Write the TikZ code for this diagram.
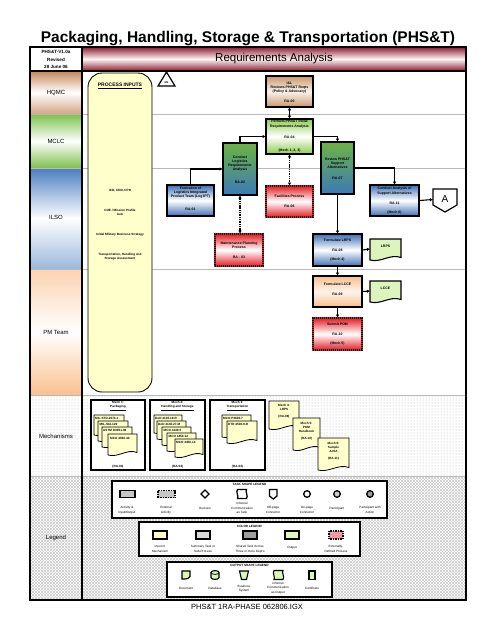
\documentclass[tikz,border=0pt]{standalone}
\usepackage{fontspec}
\setmainfont{Liberation Sans}
\usetikzlibrary{patterns,arrows.meta}
\definecolor{hdrred}{HTML}{8E1B2E}
\definecolor{hqbrown}{HTML}{C4875A}
\definecolor{mcgreen}{HTML}{7CC04A}
\definecolor{ilblue}{HTML}{4A7EC0}
\definecolor{pmpeach}{HTML}{FAC08F}
\definecolor{tanbox}{HTML}{C9976C}
\definecolor{grbox}{HTML}{8ECC50}
\definecolor{gbgreen}{HTML}{6CB244}
\definecolor{gbblue}{HTML}{3C7AB8}
\definecolor{blbox}{HTML}{3F70B3}
\definecolor{rdbox}{HTML}{E41E26}
\definecolor{pcbox}{HTML}{F9BE8C}
\definecolor{inyellow}{HTML}{FFFFCC}
\definecolor{outgreen}{HTML}{DDF5BD}
\newcommand\wdoc[5][]{\path[#1] (#2,#3) -- (#4,#3) -- (#4,{#5-2.5}) .. controls ({#2+0.65*(#4-#2)},{#5-6.5}) and ({#2+0.35*(#4-#2)},{#5+3}) .. (#2,#5) -- cycle;}
\begin{document}
\begin{tikzpicture}[x=1pt,y=-1pt,
  btxt/.style={font=\fontsize{3.5}{4.2}\selectfont\bfseries, inner sep=0pt, align=center},
  mtxt/.style={font=\fontsize{3.1}{4.2}\selectfont\bfseries, inner sep=0pt, align=center},
  ltxt/.style={font=\fontsize{3.1}{4.4}\selectfont, inner sep=0pt, align=center},
  lgtitle/.style={font=\fontsize{3.1}{4}\selectfont\bfseries, inner sep=0pt},
  lane/.style={font=\fontsize{6}{7}\selectfont, inner sep=0pt},
  box/.style={draw, line width=1.2pt, inner sep=0pt},
  tanfill/.style={top color=tanbox, bottom color=tanbox, middle color=tanbox!12},
  grfill/.style={top color=grbox, bottom color=grbox, middle color=white},
  gbfill/.style={top color=gbgreen, bottom color=gbblue},
  blfill/.style={top color=blbox, bottom color=blbox, middle color=white},
  rdfill/.style={top color=rdbox, bottom color=rdbox, middle color=white, draw=rdbox,
     postaction={draw=black, line width=1.2pt, dash pattern=on 1.1pt off 0.9pt}},
  pcfill/.style={top color=pcbox, bottom color=pcbox, middle color=pcbox!15},
  arr/.style={line width=1.1pt, -{Triangle[length=2.8pt,width=3pt]}},
  darr/.style={line width=1.1pt, dash pattern=on 1.4pt off 0.9pt, {Triangle[length=2.8pt,width=3pt]}-{Triangle[length=2.8pt,width=3pt]}},
  ydoc/.style={draw, line width=0.8pt, fill=inyellow},
  gdoc/.style={draw, line width=1.1pt, fill=outgreen},
  mbox/.style={draw, line width=1.1pt, fill=white, inner sep=0pt},
  lgbox/.style={draw, line width=1.2pt, fill=white, inner sep=0pt},
  ico/.style={draw, line width=1.1pt},
]
\useasboundingbox (0,0) rectangle (495,640);
\fill[white] (0,0) rectangle (495,640);

% title
\node[font=\fontsize{15.5}{17}\selectfont\bfseries, inner sep=0pt] (title) at (248,39) {Packaging, Handling, Storage \& Transportation (PHS\&T)};

% lane label cells
\path[top color=hqbrown, bottom color=hqbrown!75, middle color=white] (30,71) rectangle (82,114);
\path[top color=mcgreen, bottom color=mcgreen, middle color=white] (30,114) rectangle (82,168);
\path[top color=ilblue, bottom color=ilblue!55, middle color=white] (30,168) rectangle (82,269);
\path[top color=pmpeach!70, bottom color=pmpeach, middle color=white] (30,269) rectangle (82,395);
% patterned rows
\path[pattern=dots, pattern color=gray!55] (30,395) rectangle (466,476);
\path[pattern=north east lines, pattern color=gray!40] (30,476) rectangle (466,600);
\path[pattern=north west lines, pattern color=gray!40] (30,476) rectangle (466,600);

% lane separators
\foreach \yy in {114,168,269,395,476} \draw[gray!55, line width=1pt] (30,\yy) -- (466,\yy);

\node[lane] (lhq) at (56,93) {HQMC};
\node[lane] (lmc) at (56,141) {MCLC};
\node[lane] (lil) at (56,217) {ILSO};
\node[lane] (lpm) at (56,332) {PM Team};
\node[lane] (lme) at (56,436) {Mechanisms};
\node[lane] (llg) at (56,538) {Legend};

% frame
\draw[line width=1.3pt] (30,47) rectangle (466,600);
\draw[line width=1.3pt] (82,47) -- (82,600);

% header
\node[draw, line width=1.2pt, fill=white, minimum width=52, minimum height=24, inner sep=0pt] (ver) at (56,59) {};
\node[font=\fontsize{4.6}{7.2}\selectfont\bfseries, align=center, inner sep=0pt] (vertxt) at (56,59.5) {PHS\&T-V1.0a\\Revised\\28 June 06};
\node[draw, line width=1.2pt, top color=hdrred, bottom color=hdrred, middle color=hdrred!4, minimum width=384, minimum height=24, inner sep=0pt, font=\fontsize{11.5}{12}\selectfont] (band) at (274,59) {Requirements Analysis};

% process inputs
\node[draw, line width=0.9pt, fill=inyellow, rounded corners=14, minimum width=64, minimum height=319, inner sep=0pt] (pin) at (120,232.5) {};
\node[font=\fontsize{5}{6}\selectfont\bfseries, inner sep=0pt] (pintitle) at (120,86) {\underline{PROCESS INPUTS}};
\node[mtxt] (pi1) at (120,191) {ICD, CDD, CPD};
\node[mtxt] (pi2) at (120,212.5) {COE / Mission Profile\\AoA};
\node[mtxt] (pi3) at (120,235) {Initial Military Business Strategy};
\node[mtxt] (pi4) at (120,256.5) {Transportation, Handling and\\Storage Assessment};

% MS triangle
\draw[line width=1.2pt, fill=white] (166.5,72) -- (175,86) -- (158,86) -- cycle;
\node[font=\fontsize{2.6}{3}\selectfont\bfseries, inner sep=0pt] (ms) at (166.5,82.3) {MS};

% task boxes
\node[box, tanfill, minimum width=47, minimum height=31] (ra00) at (289.5,91.5) {};
\node[btxt] (t00a) at (289.5,87.5) {I\&L\\Reviews PHS\&T Reqts\\(Policy \& Advocacy)};
\node[btxt] (t00b) at (289.5,101) {RA-00};

\node[box, grfill, minimum width=47, minimum height=35] (ra04) at (289.5,136.5) {};
\node[btxt] (t04a) at (289.5,124) {Perform PHS\&T Initial\\Requirements Analysis};
\node[btxt] (t04b) at (289.5,137) {RA-04};
\node[btxt] (t04c) at (289.5,150.5) {(Mech 1, 2, 3)};

\node[box, gbfill, minimum width=34, minimum height=52] (ra02) at (240,169) {};
\node[btxt] (t02a) at (240,163.5) {Conduct\\Logistics\\Requirements\\Analysis};
\node[btxt] (t02b) at (240,182) {RA-02};

\node[box, gbfill, minimum width=33, minimum height=52] (ra07) at (337.5,168) {};
\node[btxt] (t07a) at (337.5,163.5) {Review PHS\&T\\Support\\Alternatives};
\node[btxt] (t07b) at (337.5,178) {RA-07};

\node[box, rdfill, minimum width=47, minimum height=31] (ra06) at (289.5,201.5) {};
\node[btxt] (t06a) at (289.5,196) {Facilities Process};
\node[btxt] (t06b) at (289.5,206) {RA-06};

\node[box, blfill, minimum width=47, minimum height=31] (ra01) at (190.5,200.5) {};
\node[btxt] (t01a) at (190.5,192.8) {Formation of\\Logistics Integrated\\Product Team (Log IPT)};
\node[btxt] (t01b) at (190.5,209) {RA-01};

\node[box, blfill, minimum width=49, minimum height=31] (ra11) at (394.5,200.5) {};
\node[btxt] (t11a) at (394.5,191) {Conduct Analysis of\\Support Alternatives};
\node[btxt] (t11b) at (394.5,203) {RA-11};
\node[btxt] (t11c) at (394.5,212.5) {(Mech 6)};

% off-page connector A
\draw[line width=1.2pt, fill=white] (433,189) -- (457,189) -- (457,205) -- (445,212) -- (433,205) -- cycle;
\node[font=\fontsize{10}{11}\selectfont, minimum width=24, minimum height=23, inner sep=0pt] (offa) at (445,199.5) {A};

\node[box, rdfill, minimum width=48, minimum height=32] (ra03) at (239,250) {};
\node[btxt] (t03a) at (239,245.5) {Maintenance Planning\\Process};
\node[btxt] (t03b) at (239,257) {RA - 03};

\node[box, blfill, minimum width=49, minimum height=32] (ra08) at (337.5,250) {};
\node[btxt] (t08a) at (337.5,240.5) {Formulate LRPS};
\node[btxt] (t08b) at (337.5,250) {RA-08};
\node[btxt] (t08c) at (337.5,260) {(Mech 4)};

\node[box, pcfill, minimum width=49, minimum height=31] (ra09) at (337.5,291.5) {};
\node[btxt] (t09a) at (337.5,284.5) {Formulate LCCE};
\node[btxt] (t09b) at (337.5,294) {RA-09};

\node[box, rdfill, minimum width=49, minimum height=32] (ra10) at (337.5,334) {};
\node[btxt] (t10a) at (337.5,324.5) {Submit POM};
\node[btxt] (t10b) at (337.5,334) {RA-10};
\node[btxt] (t10c) at (337.5,344) {(Mech 5)};

% output documents
\wdoc[gdoc]{370}{239}{401}{260}
\node[btxt, minimum width=31, minimum height=19] (lrps) at (385.5,249) {};
\node[btxt] (lrpst) at (385.5,246) {LRPS};
\wdoc[gdoc]{370}{281}{401}{302}
\node[btxt, minimum width=31, minimum height=19] (lcce) at (385.5,291) {};
\node[btxt] (lccet) at (385.5,288) {LCCE};

% connectors
\draw[line width=1.1pt, {Triangle[length=2.8pt,width=3pt]}-{Triangle[length=2.8pt,width=3pt]}] (ra00.south) -- (ra04.north);
\draw[arr] (ra02.north) |- (ra04.west);
\draw[arr] (ra04.east) -| (ra07.north);
\draw[arr] (ra01.north) |- (ra02.west);
\draw[darr] (ra04.south) -- (ra06.north);
\draw[darr] (ra02.south) -- (ra02.south |- ra03.north);
\draw[arr] (ra07.east) -| (ra11.north);
\draw[arr] (ra11.east) -- (offa.west);
\draw[arr] (ra07.south) -- (ra08.north);
\draw[arr] (ra08.east) -- (lrps.west);
\draw[arr] (ra08.south) -- (ra09.north);
\draw[arr] (ra09.east) -- (lcce.west);
\draw[arr] (ra09.south) -- (ra10.north);

% mechanisms
\node[mbox, minimum width=54, minimum height=70] (mech1) at (118,435) {};
\node[mtxt] (m1t) at (118,406) {Mech 1:\\\underline{Packaging}};
\node[mtxt] (m1b) at (118,467) {(RA-04)};
\wdoc[ydoc]{94}{415}{124}{435}
\node[mtxt, anchor=west] (m1d1) at (95,418) {MIL-STD-2073-1};
\wdoc[ydoc]{98}{421}{128}{441}
\node[mtxt, anchor=west] (m1d2) at (99.5,424) {MIL-Std-129};
\wdoc[ydoc]{102}{427}{132}{447}
\node[mtxt, anchor=west] (m1d3) at (103,430) {ASTM D3951-98};
\wdoc[ydoc]{108}{434}{137}{455}
\node[mtxt, anchor=west] (m1d4) at (110,438) {MCO 4030.40};

\node[mbox, minimum width=55, minimum height=70] (mech2) at (177.5,435) {};
\node[mtxt] (m2t) at (177.5,406) {Mech 2:\\\underline{Handling and Storage}};
\node[mtxt] (m2b) at (177.5,467) {(RA-04)};
\wdoc[ydoc]{154}{415}{182}{433}
\node[mtxt, anchor=west] (m2d1) at (155,418) {DoD 4145.19-R};
\wdoc[ydoc]{157}{421}{186}{439}
\node[mtxt, anchor=west] (m2d2) at (158,424) {DoD 4140.27-M};
\wdoc[ydoc]{162}{427}{191}{445}
\node[mtxt, anchor=west] (m2d3) at (163.5,430) {MCO 4140.5};
\wdoc[ydoc]{167}{433}{196}{451}
\node[mtxt, anchor=west] (m2d4) at (168.5,436) {MCO 4450.12};
\wdoc[ydoc]{175}{439}{203}{457}
\node[mtxt, anchor=west] (m2d5) at (176,442) {MCO 4450.14};

\node[mbox, minimum width=55, minimum height=70] (mech3) at (237.5,435) {};
\node[mtxt] (m3t) at (237.5,406) {Mech 3:\\\underline{Transportation}};
\node[mtxt] (m3b) at (237.5,467) {(RA-04)};
\wdoc[ydoc]{222}{415}{251}{437}
\node[mtxt, anchor=west] (m3d1) at (223,418) {MCO P4600.7};
\wdoc[ydoc]{227}{421}{257}{443}
\node[mtxt, anchor=west] (m3d2) at (228,424) {DTR 4500.9-R};

\wdoc[ydoc]{269}{401}{299}{429}
\node[mtxt] (m4) at (284,411) {Mech 4:\\LRPS\\[3pt](RA-08)};
\wdoc[ydoc]{293}{418}{320}{450}
\node[mtxt] (m5) at (306.5,431) {Mech 5:\\POM\\Handbook\\[3pt](RA-10)};
\wdoc[ydoc]{318}{438}{349}{470}
\node[mtxt] (m6) at (333.5,451) {Mech 6:\\Sample\\AoSA\\[3pt](RA-11)};

% task shape legend
\node[lgbox, minimum width=275, minimum height=37] (tasklg) at (249.5,499.5) {};
\node[lgtitle] (tasklgt) at (249.5,484.5) {TASK SHAPE LEGEND};
\draw[ico, fill=gray!45, line width=1.3pt] (120,490.5) rectangle (135,497.5);
\draw[ico, fill=gray!45, line width=1.3pt, dash pattern=on 1pt off 0.7pt] (158,490.5) rectangle (175,497.5);
\draw[ico, fill=white, line width=1.3pt] (205,490) -- (209,494) -- (205,498) -- (201,494) -- cycle;
\draw[ico, fill=white, line width=1.3pt] (237.5,489.5) -- (246.5,489.5) .. controls (245,492) and (248.5,496) .. (246.5,498.5) -- (237.5,498.5) .. controls (239,496) and (235.5,492) .. (237.5,489.5) -- cycle;
\draw[ico, fill=white, line width=1.3pt] (269.5,489.5) -- (277,489.5) -- (277,496) -- (273.25,499) -- (269.5,496) -- cycle;
\draw[ico, fill=white, line width=1.3pt] (307,494) circle (3.3);
\draw[ico, fill=gray!40, line width=1.3pt] (337,494) circle (3.3);
\draw[ico, fill=gray!75, line width=1.3pt] (370,494) circle (3.3);
\node[ltxt] (tl1) at (127,510) {Activity \&\\Input/Output};
\node[ltxt] (tl2) at (166,510) {External\\Activity};
\node[ltxt] (tl3) at (205,508.5) {Decision};
\node[ltxt] (tl4) at (242,508) {Informal\\Communication\\as Task};
\node[ltxt] (tl5) at (273,510) {Off-page\\Connector};
\node[ltxt] (tl6) at (307,510) {On-page\\Connector};
\node[ltxt] (tl7) at (337,508.5) {Participant};
\node[ltxt] (tl8) at (370,510) {Participant with\\Action};

% color legend
\node[lgbox, minimum width=221, minimum height=34] (collg) at (249.5,539) {};
\node[lgtitle] (collgt) at (249.5,526) {COLOR LEGEND};
\draw[ico, fill=inyellow] (153,531) rectangle (167,539);
\draw[ico, fill=gray!30] (196,531) rectangle (210,539);
\draw[ico, fill=gray!75] (243,531) rectangle (257,539);
\draw[ico, fill=outgreen] (285,531) rectangle (299,539);
\draw[ico, fill=rdbox!45, dash pattern=on 1pt off 0.7pt] (329,531) rectangle (343,539);
\node[ltxt] (cl1) at (160,549) {Input or\\Mechanism};
\node[ltxt] (cl2) at (203,549) {Summary Task or\\Sub-Process};
\node[ltxt] (cl3) at (250,549) {Shared Task Across\\Three or more Dept's};
\node[ltxt] (cl4) at (292,547.5) {Output};
\node[ltxt] (cl5) at (336,549) {Externally-\\Defined Process};

% output shape legend
\node[lgbox, minimum width=165, minimum height=35] (outlg) at (249.5,579.5) {};
\node[lgtitle] (outlgt) at (249.5,565.5) {OUTPUT SHAPE LEGEND};
\draw[ico, fill=outgreen] (182,571) -- (190,571) -- (190,576.5) .. controls (189,578.5) and (187,579) .. (185,579) -- (182,579) -- cycle;
\draw[ico, fill=outgreen] (211,572.5) -- (211,577.5) .. controls (211,580) and (219,580) .. (219,577.5) -- (219,572.5) .. controls (219,570) and (211,570) .. (211,572.5) -- cycle;
\draw[line width=0.8pt] (211,572.5) .. controls (211,575) and (219,575) .. (219,572.5);
\draw[ico, fill=outgreen] (239.5,571) -- (248.5,571) -- (246.5,579.5) -- (241.5,579.5) -- cycle;
\draw[ico, fill=outgreen] (274,570.5) -- (283,570.5) .. controls (281.5,573) and (285,577) .. (283,579.5) -- (274,579.5) .. controls (275.5,577) and (272,573) .. (274,570.5) -- cycle;
\draw[ico, fill=outgreen] (308.5,571) rectangle (315.5,579.5);
\draw[line width=1.6pt] (309,571) -- (309,579.5) (315,571) -- (315,579.5);
\node[ltxt] (ol1) at (186,588) {Document};
\node[ltxt] (ol2) at (215,588) {Database};
\node[ltxt] (ol3) at (244,588.5) {Business\\System};
\node[ltxt] (ol4) at (278,588) {Informal\\Communication\\as Output};
\node[ltxt] (ol5) at (312,588) {Certificate};

% footer
\node[font=\fontsize{7.5}{9}\selectfont, inner sep=0pt] (footer) at (247,606.5) {PHS\&T 1RA-PHASE 062806.IGX};
\end{tikzpicture}
\end{document}
